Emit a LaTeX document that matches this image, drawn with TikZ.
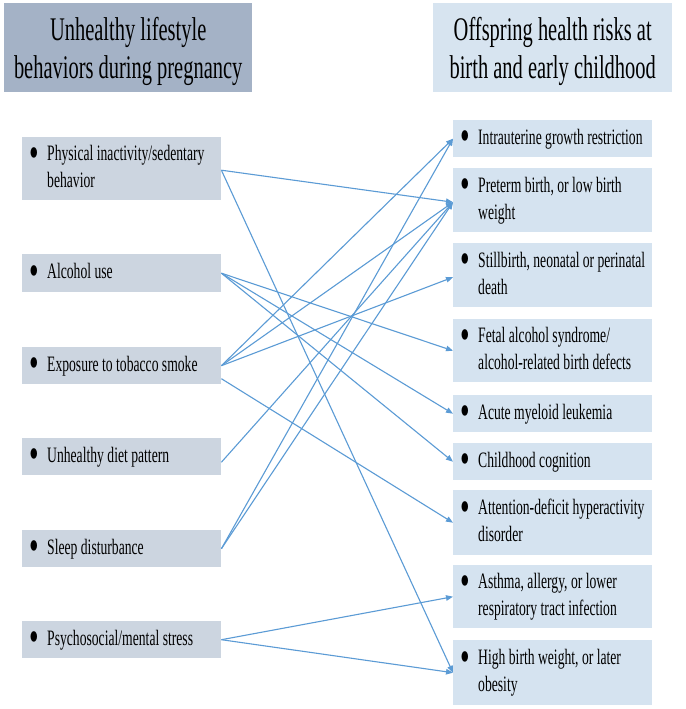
\documentclass[tikz,border=0pt]{standalone}
\usepackage{fontspec}
\setmainfont{Liberation Serif}[FakeStretch=0.62]
\usepackage{graphicx}
\usetikzlibrary{arrows.meta}
\definecolor{hdrL}{RGB}{164,178,198}
\definecolor{hdrR}{RGB}{215,228,240}
\definecolor{boxL}{RGB}{204,213,224}
\definecolor{boxR}{RGB}{213,227,240}
\definecolor{arr}{RGB}{91,155,213}
\newcommand{\itm}[1]{\begin{tabular}{@{}p{18pt}@{}p{167pt}@{}}\raisebox{-6.5pt}{\scalebox{2.0}{\textbullet}}&#1\end{tabular}}
\newcommand{\hdtext}[1]{\raisebox{-4pt}[\height][\depth]{\begin{tabular}{@{}c@{}}#1\end{tabular}}}
\begin{document}
\begin{tikzpicture}[x=1pt,y=-1pt,
  itembox/.style={anchor=north west, minimum width=199pt,
    inner xsep=7pt, inner ysep=0pt, font=\fontsize{22}{27}\selectfont},
  itemL/.style={itembox, fill=boxL},
  itemR/.style={itembox, fill=boxR},
  hdr/.style={anchor=north west, minimum height=89pt, inner sep=0pt,
    font=\fontsize{33}{38}\selectfont},
  conn/.style={draw=arr, line width=1.1pt, -{Triangle[length=7pt,width=5.5pt]}}]
\useasboundingbox (0,0) rectangle (685,709);
\fill[white] (0,0) rectangle (685,709);
% headers
\node[hdr, fill=hdrL, minimum width=248pt] (hL) at (4,3) {\hdtext{Unhealthy lifestyle\\behaviors during pregnancy}};
\node[hdr, fill=hdrR, minimum width=239pt] (hR) at (433,3) {\hdtext{Offspring health risks at\\birth and early childhood}};
% left items
\node[itemL, minimum height=63pt] (phys) at (22,137) {\itm{Physical inactivity/sedentary\\ & behavior}};
\node[itemL, minimum height=38pt] (alc) at (22,254) {\itm{Alcohol use}};
\node[itemL, minimum height=37pt] (tob) at (22,347) {\itm{Exposure to tobacco smoke}};
\node[itemL, minimum height=37pt] (diet) at (22,438) {\itm{Unhealthy diet pattern}};
\node[itemL, minimum height=37pt] (sleep) at (22,530) {\itm{Sleep disturbance}};
\node[itemL, minimum height=37pt] (psy) at (22,621) {\itm{Psychosocial/mental stress}};
% right items
\node[itemR, minimum height=37pt] (iugr) at (453,120) {\itm{Intrauterine growth restriction}};
\node[itemR, minimum height=64pt] (pre) at (453,168) {\itm{Preterm birth, or low birth\\ & weight}};
\node[itemR, minimum height=64pt] (still) at (453,243) {\itm{Stillbirth, neonatal or perinatal\\ & death}};
\node[itemR, minimum height=63pt] (fas) at (453,319) {\itm{Fetal alcohol syndrome/\\ & alcohol-related birth defects}};
\node[itemR, minimum height=37pt] (aml) at (453,395) {\itm{Acute myeloid leukemia}};
\node[itemR, minimum height=37pt] (cog) at (453,443) {\itm{Childhood cognition}};
\node[itemR, minimum height=65pt] (adhd) at (453,490) {\itm{Attention-deficit hyperactivity\\ & disorder}};
\node[itemR, minimum height=63pt] (asth) at (453,565) {\itm{Asthma, allergy, or lower\\ & respiratory tract infection}};
\node[itemR, minimum height=65pt] (hbw) at (453,640) {\itm{High birth weight, or later\\ & obesity}};
% connectors
\draw[conn] ([yshift=-1.5pt]phys.east) -- ([yshift=-2pt]pre.west);
\draw[conn] ([yshift=-1.5pt]phys.east) -- (hbw.west);
\draw[conn] (alc.east) -- (fas.west);
\draw[conn] (alc.east) -- (aml.west);
\draw[conn] (alc.east) -- (cog.west);
\draw[conn] (tob.east) -- (iugr.west);
\draw[conn] (tob.east) -- ([yshift=-2pt]pre.west);
\draw[conn] (tob.east) -- ([yshift=-2pt]still.west);
\draw[conn] ([yshift=-13pt]tob.east) -- (adhd.west);
\draw[conn] ([yshift=-5.5pt]diet.east) -- ([yshift=-2pt]pre.west);
\draw[conn] (sleep.east) -- (iugr.west);
\draw[conn] (sleep.east) -- ([yshift=-2pt]pre.west);
\draw[conn] (psy.east) -- (asth.west);
\draw[conn] (psy.east) -- (hbw.west);
\end{tikzpicture}
\end{document}
